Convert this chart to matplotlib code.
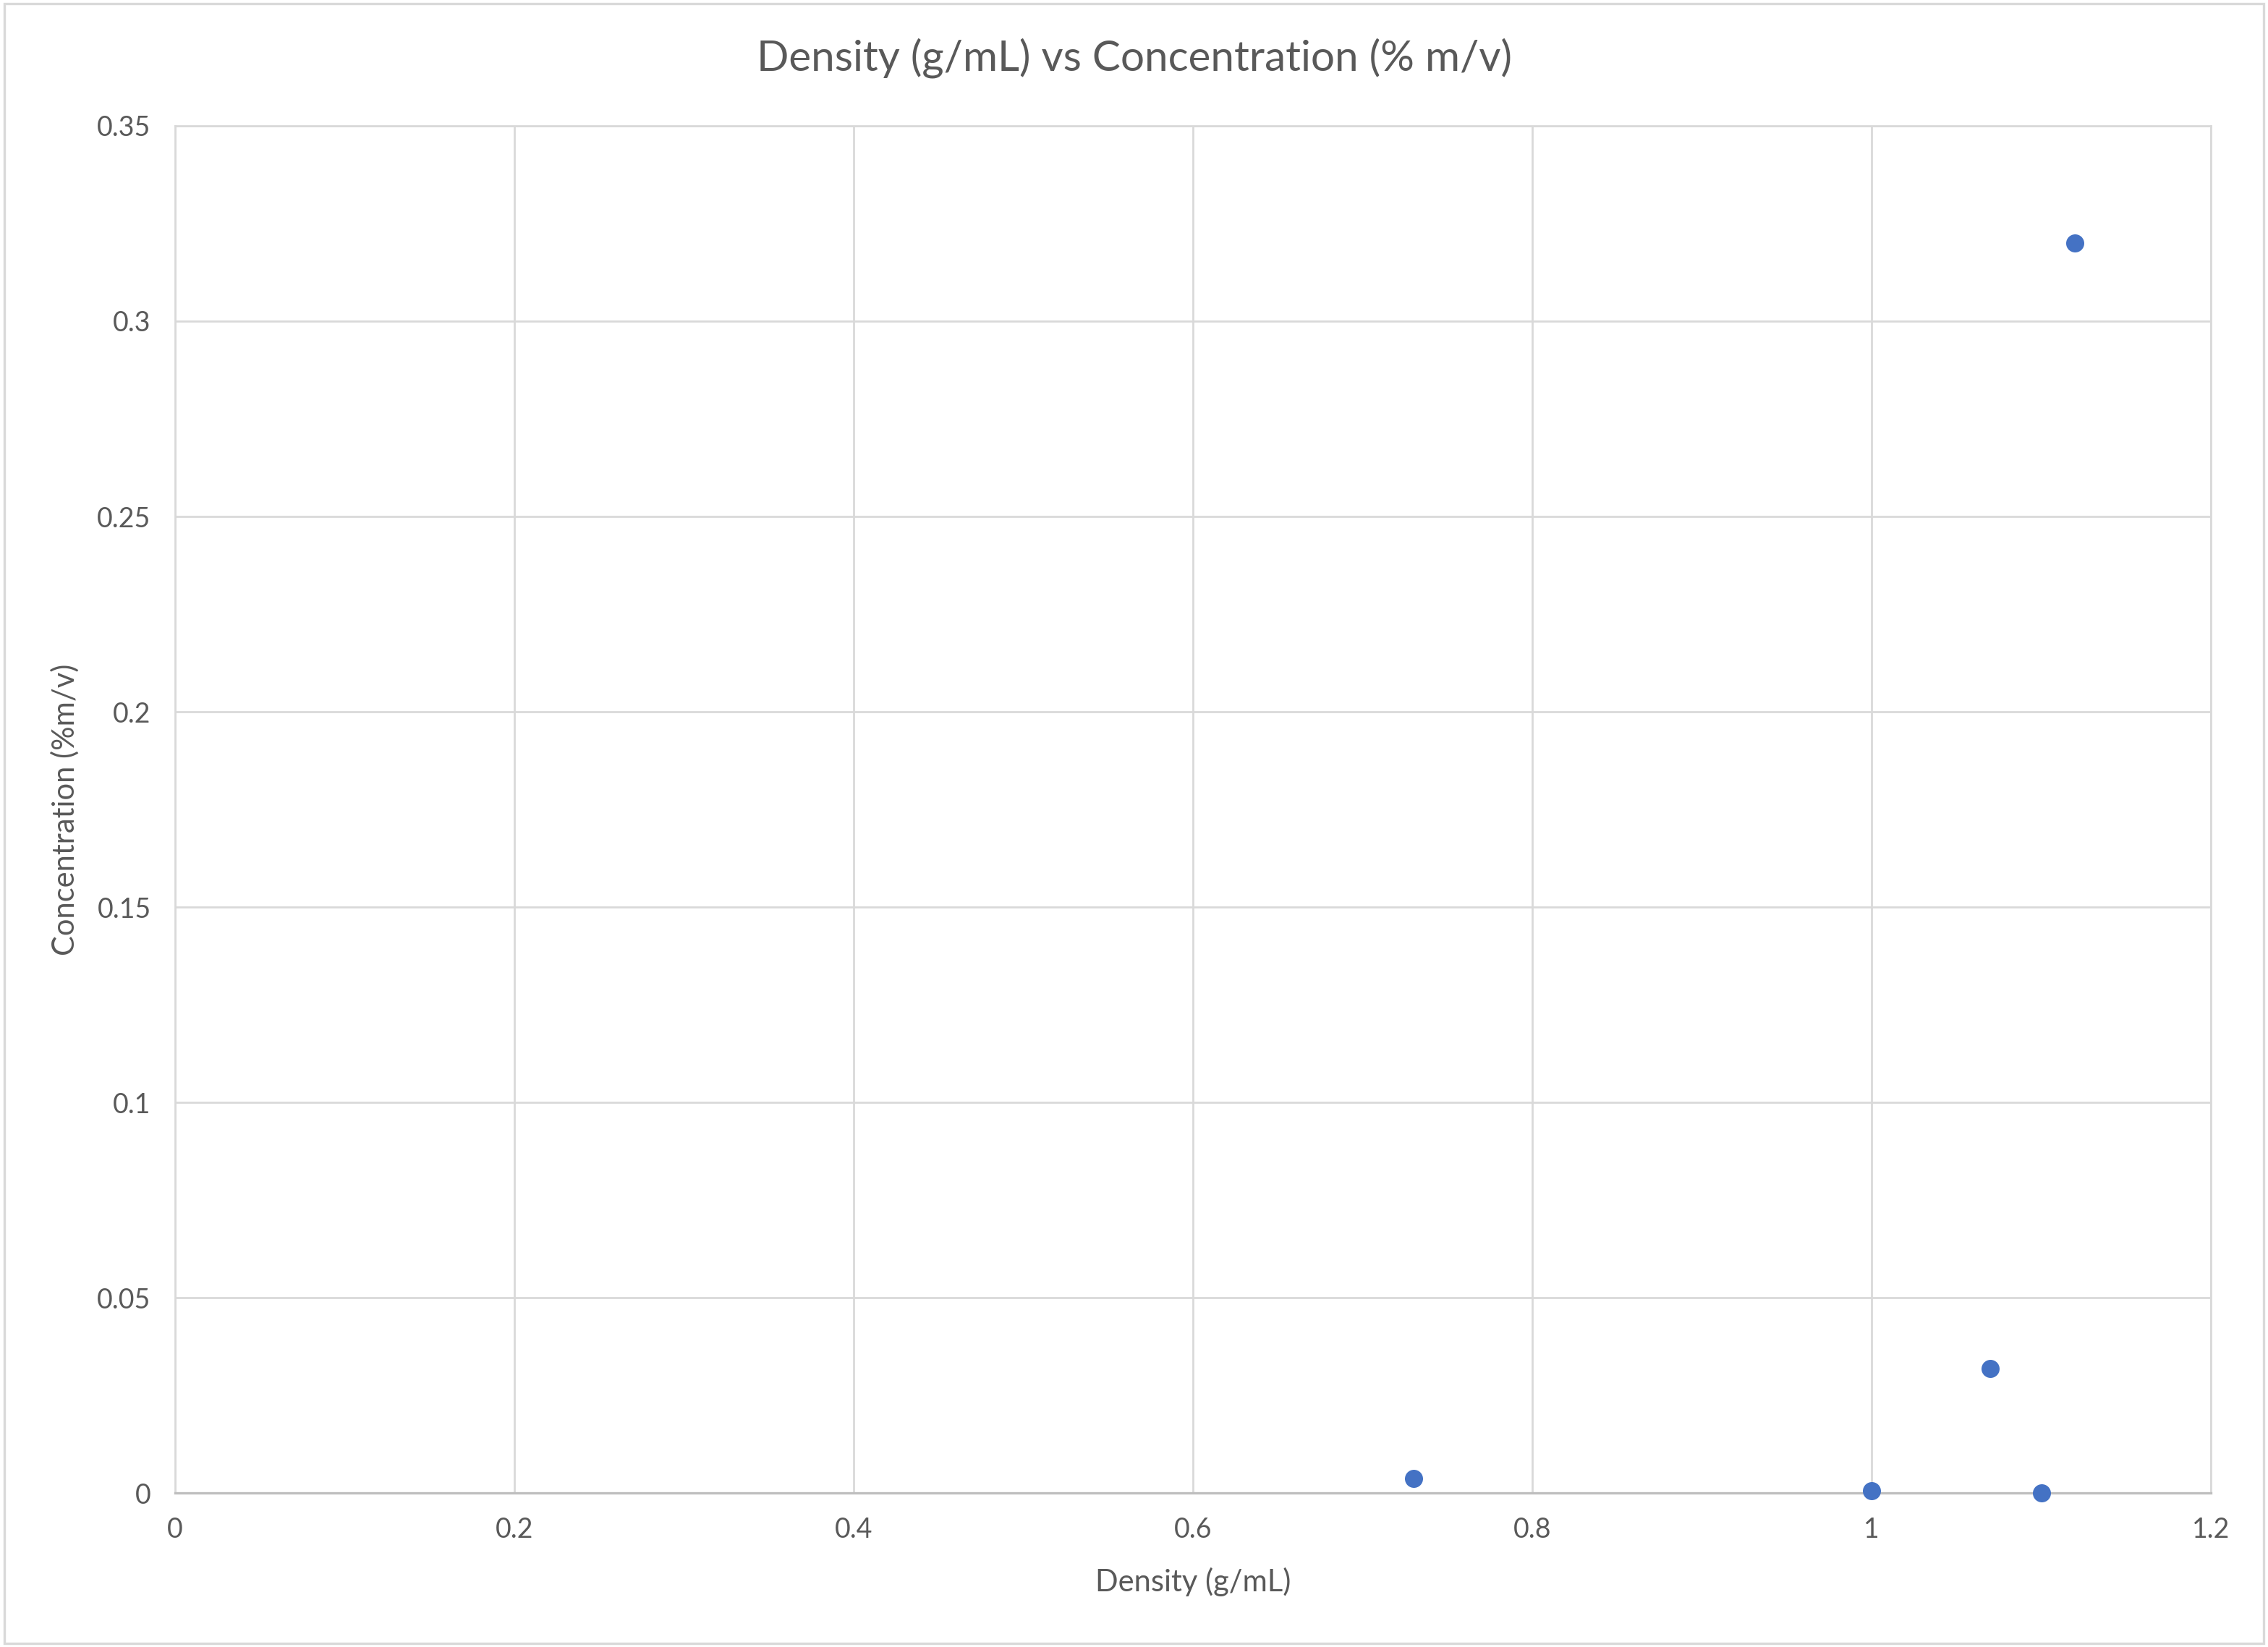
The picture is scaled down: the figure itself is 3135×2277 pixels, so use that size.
import matplotlib.pyplot as plt
from matplotlib.patches import Rectangle

# data
density = [0.73, 1.0, 1.07, 1.1, 1.12]
concentration = [0.0037, 0.0005, 0.0318, 0.0, 0.32]

x_ticks = [0, 0.2, 0.4, 0.6, 0.8, 1, 1.2]
x_tick_labels = ["0", "0.2", "0.4", "0.6", "0.8", "1", "1.2"]
y_ticks = [0, 0.05, 0.1, 0.15, 0.2, 0.25, 0.3, 0.35]
y_tick_labels = ["0", "0.05", "0.1", "0.15", "0.2", "0.25", "0.3", "0.35"]

plt.rcParams['font.family'] = ['Lato', 'DejaVu Sans']
text_col = "#595959"
grid_col = "#D9D9D9"

fig = plt.figure(figsize=(15.675, 11.385), dpi=200)
ax = fig.add_axes([0.0772, 0.0935, 0.8976, 0.8301])

ax.plot(density, concentration, linestyle="none", marker="o",
        markersize=8, color="#4472C4", clip_on=False, zorder=3)

ax.set_xlim(0, 1.2)
ax.set_ylim(0, 0.35)
ax.set_xticks(x_ticks)
ax.set_xticklabels(x_tick_labels)
ax.set_yticks(y_ticks)
ax.set_yticklabels(y_tick_labels)
ax.tick_params(length=0, labelsize=13.5, colors=text_col, pad=12)
ax.grid(True, color=grid_col, linewidth=1.0)
ax.set_axisbelow(True)

for side in ["top", "right", "left"]:
    ax.spines[side].set_color(grid_col)
    ax.spines[side].set_linewidth(1.0)
ax.spines["bottom"].set_color("#BFBFBF")
ax.spines["bottom"].set_linewidth(1.2)

ax.set_xlabel("Density (g/mL)", fontsize=15, color=text_col, labelpad=12)
ax.set_ylabel("Concentration (%m/v)", fontsize=15, color=text_col, labelpad=9)
fig.suptitle("Density (g/mL) vs Concentration (% m/v)", fontsize=21,
             color=text_col, y=0.977)

# light frame round the whole chart
fig.patches.append(Rectangle((0.002, 0.002), 0.996, 0.996, transform=fig.transFigure,
                             fill=False, edgecolor="#D9D9D9", linewidth=1.2))

fig.savefig("out.png", dpi=200, facecolor="white")
